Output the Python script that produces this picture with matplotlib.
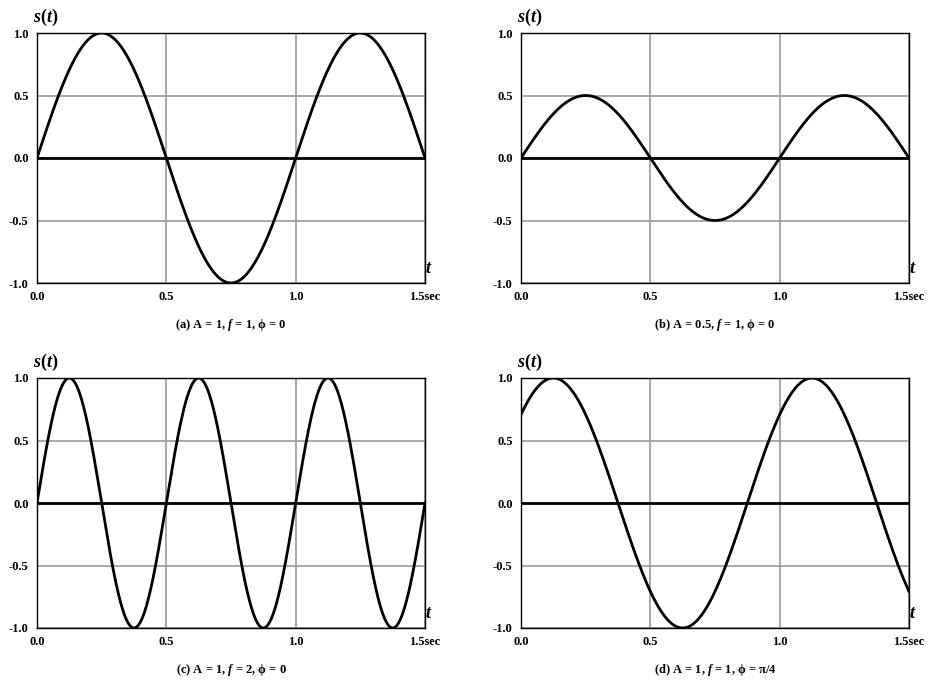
import numpy as np
import matplotlib
matplotlib.use("Agg")
import matplotlib.pyplot as plt

amps = [1, 0.5, 1, 1]
freqs = [1, 1, 2, 1]
phases = [0, 0, 0, np.pi/4]
captions = ["(a) A = 1, $f$ = 1, \u03d5 = 0", "(b) A = 0.5, $f$ = 1, \u03d5 = 0",
            "(c) A = 1, $f$ = 2, \u03d5 = 0", "(d) A = 1, $f$ = 1, \u03d5 = \u03c0/4"]
xticks = [0.0, 0.5, 1.0, 1.5]
xticklabels = ["0.0", "0.5", "1.0", "1.5sec"]
yticks = [-1.0, -0.5, 0.0, 0.5, 1.0]
yticklabels = ["-1.0", "-0.5", "0.0", "0.5", "1.0"]

plt.rcParams['font.family'] = ['Liberation Serif', 'DejaVu Serif']
plt.rcParams['mathtext.fontset'] = 'custom'
plt.rcParams['mathtext.it'] = 'Liberation Serif:italic:bold'
plt.rcParams['mathtext.rm'] = 'Liberation Serif:bold'

fig = plt.figure(figsize=(9.3, 6.85), dpi=100)
W, H = 930, 685
boxes = [(37, 33), (521, 33), (37, 378), (521, 378)]
aw, ah = 388, 250
t = np.linspace(0, 1.5, 600)
for i, (x0, y0) in enumerate(boxes):
    ax = fig.add_axes([x0/W, 1-(y0+ah)/H, aw/W, ah/H])
    s = amps[i]*np.sin(2*np.pi*freqs[i]*t + phases[i])
    ax.set_xlim(0, 1.5); ax.set_ylim(-1, 1)
    ax.set_xticks(xticks); ax.set_xticklabels(xticklabels, fontsize=9, fontweight='bold')
    ax.set_yticks(yticks); ax.set_yticklabels(yticklabels, fontsize=9, fontweight='bold')
    ax.tick_params(length=0, pad=6)
    ax.grid(True, color='#999999', lw=1.2)
    ax.axhline(0, color='black', lw=2)
    ax.plot(t, s, color='black', lw=2)
    for sp in ax.spines.values():
        sp.set_linewidth(1.0)
    ax.text(-0.01, 1.02, "$s$(t)".replace("(t)", "($t$)"), transform=ax.transAxes, fontsize=13,
            fontweight='bold', ha='left', va='bottom')
    ax.text(1.01, 0.025, "$t$", transform=ax.transAxes, fontsize=13,
            ha='center', va='bottom')
    ax.text(0.5, -0.135, captions[i], transform=ax.transAxes, fontsize=9, fontweight='bold',
            ha='center', va='top')

fig.savefig("out.png", dpi=100)
